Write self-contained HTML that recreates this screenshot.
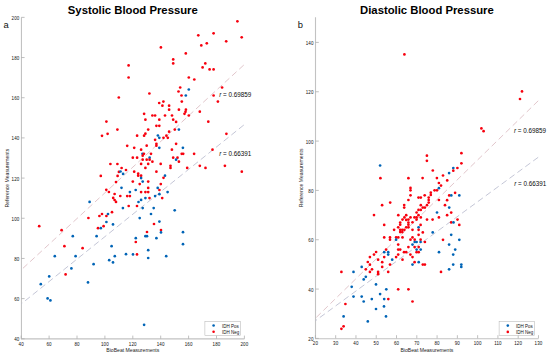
<!DOCTYPE html>
<html><head><meta charset="utf-8"><style>
html,body{margin:0;padding:0;background:#fff;}
svg{display:block;}
text{font-family:"Liberation Sans",sans-serif;fill:#1a1a1a;}
.tk{font-size:4.5px;fill:#111;letter-spacing:0.12px;}
.lb{font-size:5.1px;fill:#222;}
.ti{font-size:11.3px;font-weight:bold;fill:#000;}
.lt{font-size:9.4px;fill:#111;}
.rl{font-size:6.3px;fill:#0a0a0a;}
.lg{font-size:4.5px;fill:#111;}
</style></head><body>
<svg width="550" height="357" viewBox="0 0 550 357">
<rect width="550" height="357" fill="#fff"/>
<path d="M21.45 17.4V338.9H244.40" fill="none" stroke="#c2c2c2" stroke-width="1.1"/>
<path d="M21.20 338.8v-3.2" stroke="#b0b0b0" stroke-width="0.8"/>
<text x="21.20" y="345.8" class="tk" text-anchor="middle">40</text>
<path d="M49.10 338.8v-3.2" stroke="#b0b0b0" stroke-width="0.8"/>
<text x="49.10" y="345.8" class="tk" text-anchor="middle">60</text>
<path d="M77.00 338.8v-3.2" stroke="#b0b0b0" stroke-width="0.8"/>
<text x="77.00" y="345.8" class="tk" text-anchor="middle">80</text>
<path d="M104.90 338.8v-3.2" stroke="#b0b0b0" stroke-width="0.8"/>
<text x="104.90" y="345.8" class="tk" text-anchor="middle">100</text>
<path d="M132.80 338.8v-3.2" stroke="#b0b0b0" stroke-width="0.8"/>
<text x="132.80" y="345.8" class="tk" text-anchor="middle">120</text>
<path d="M160.70 338.8v-3.2" stroke="#b0b0b0" stroke-width="0.8"/>
<text x="160.70" y="345.8" class="tk" text-anchor="middle">140</text>
<path d="M188.60 338.8v-3.2" stroke="#b0b0b0" stroke-width="0.8"/>
<text x="188.60" y="345.8" class="tk" text-anchor="middle">160</text>
<path d="M216.50 338.8v-3.2" stroke="#b0b0b0" stroke-width="0.8"/>
<text x="216.50" y="345.8" class="tk" text-anchor="middle">180</text>
<path d="M244.40 338.8v-3.2" stroke="#b0b0b0" stroke-width="0.8"/>
<text x="244.40" y="345.8" class="tk" text-anchor="middle">200</text>
<path d="M21.2 338.80h3.4" stroke="#b0b0b0" stroke-width="0.8"/>
<text x="19.4" y="341.35" class="tk" text-anchor="end">40</text>
<path d="M21.2 298.62h3.4" stroke="#b0b0b0" stroke-width="0.8"/>
<text x="19.4" y="301.17" class="tk" text-anchor="end">60</text>
<path d="M21.2 258.44h3.4" stroke="#b0b0b0" stroke-width="0.8"/>
<text x="19.4" y="260.99" class="tk" text-anchor="end">80</text>
<path d="M21.2 218.26h3.4" stroke="#b0b0b0" stroke-width="0.8"/>
<text x="19.4" y="220.81" class="tk" text-anchor="end">100</text>
<path d="M21.2 178.08h3.4" stroke="#b0b0b0" stroke-width="0.8"/>
<text x="19.4" y="180.63" class="tk" text-anchor="end">120</text>
<path d="M21.2 137.90h3.4" stroke="#b0b0b0" stroke-width="0.8"/>
<text x="19.4" y="140.45" class="tk" text-anchor="end">140</text>
<path d="M21.2 97.72h3.4" stroke="#b0b0b0" stroke-width="0.8"/>
<text x="19.4" y="100.27" class="tk" text-anchor="end">160</text>
<path d="M21.2 57.54h3.4" stroke="#b0b0b0" stroke-width="0.8"/>
<text x="19.4" y="60.09" class="tk" text-anchor="end">180</text>
<path d="M21.2 17.36h3.4" stroke="#b0b0b0" stroke-width="0.8"/>
<text x="19.4" y="19.91" class="tk" text-anchor="end">200</text>
<path d="M243.8 65L21.4 269.7" stroke="#dcbcc2" stroke-width="0.85" stroke-dasharray="6.2 3.6"/>
<path d="M243.8 125L21.4 303.8" stroke="#b9bccf" stroke-width="0.85" stroke-dasharray="6.2 3.6"/>
<circle cx="237.4" cy="21.3" r="1.35" fill="#f7000e"/>
<circle cx="198.3" cy="35.3" r="1.35" fill="#f7000e"/>
<circle cx="213.6" cy="33.3" r="1.35" fill="#f7000e"/>
<circle cx="241.7" cy="37.3" r="1.35" fill="#f7000e"/>
<circle cx="226.2" cy="41.3" r="1.35" fill="#f7000e"/>
<circle cx="201.3" cy="45.4" r="1.35" fill="#f7000e"/>
<circle cx="206.8" cy="43.3" r="1.35" fill="#f7000e"/>
<circle cx="160.9" cy="47.4" r="1.35" fill="#f7000e"/>
<circle cx="185.8" cy="53.4" r="1.35" fill="#f7000e"/>
<circle cx="173.2" cy="59.4" r="1.35" fill="#f7000e"/>
<circle cx="173.2" cy="63.4" r="1.35" fill="#f7000e"/>
<circle cx="205.3" cy="63.4" r="1.35" fill="#f7000e"/>
<circle cx="202.6" cy="67.4" r="1.35" fill="#f7000e"/>
<circle cx="209.6" cy="69.4" r="1.35" fill="#f7000e"/>
<circle cx="213.6" cy="69.4" r="1.35" fill="#f7000e"/>
<circle cx="128.6" cy="65.4" r="1.35" fill="#f7000e"/>
<circle cx="128.6" cy="77.5" r="1.35" fill="#f7000e"/>
<circle cx="188.8" cy="77.5" r="1.35" fill="#f7000e"/>
<circle cx="194.3" cy="79.5" r="1.35" fill="#f7000e"/>
<circle cx="180.2" cy="87.5" r="1.35" fill="#f7000e"/>
<circle cx="188.8" cy="89.5" r="1.35" fill="#0064b6"/>
<circle cx="178.5" cy="91.5" r="1.35" fill="#f7000e"/>
<circle cx="222.1" cy="87.5" r="1.35" fill="#f7000e"/>
<circle cx="149.4" cy="93.5" r="1.35" fill="#f7000e"/>
<circle cx="118.8" cy="97.5" r="1.35" fill="#f7000e"/>
<circle cx="181.5" cy="95.5" r="1.35" fill="#f7000e"/>
<circle cx="185.8" cy="95.5" r="1.35" fill="#0064b6"/>
<circle cx="213.6" cy="95.5" r="1.35" fill="#f7000e"/>
<circle cx="163.4" cy="101.6" r="1.35" fill="#f7000e"/>
<circle cx="159.2" cy="103.0" r="1.35" fill="#f7000e"/>
<circle cx="181.8" cy="101.6" r="1.35" fill="#f7000e"/>
<circle cx="217.9" cy="101.6" r="1.35" fill="#f7000e"/>
<circle cx="106.4" cy="121.6" r="1.35" fill="#f7000e"/>
<circle cx="117.4" cy="129.6" r="1.35" fill="#f7000e"/>
<circle cx="102.0" cy="135.8" r="1.35" fill="#f7000e"/>
<circle cx="107.6" cy="133.8" r="1.35" fill="#f7000e"/>
<circle cx="127.2" cy="145.8" r="1.35" fill="#f7000e"/>
<circle cx="110.4" cy="164.0" r="1.35" fill="#f7000e"/>
<circle cx="117.4" cy="164.0" r="1.35" fill="#f7000e"/>
<circle cx="121.6" cy="168.0" r="1.35" fill="#f7000e"/>
<circle cx="126.0" cy="170.0" r="1.35" fill="#f7000e"/>
<circle cx="162.4" cy="105.7" r="1.35" fill="#f7000e"/>
<circle cx="169.1" cy="105.7" r="1.35" fill="#f7000e"/>
<circle cx="169.1" cy="109.7" r="1.35" fill="#f7000e"/>
<circle cx="178.9" cy="109.7" r="1.35" fill="#f7000e"/>
<circle cx="185.9" cy="109.7" r="1.35" fill="#f7000e"/>
<circle cx="185.5" cy="111.8" r="1.35" fill="#f7000e"/>
<circle cx="184.5" cy="113.8" r="1.35" fill="#f7000e"/>
<circle cx="188.8" cy="115.5" r="1.35" fill="#f7000e"/>
<circle cx="144.1" cy="113.8" r="1.35" fill="#f7000e"/>
<circle cx="152.4" cy="115.5" r="1.35" fill="#f7000e"/>
<circle cx="155.1" cy="115.5" r="1.35" fill="#f7000e"/>
<circle cx="165.0" cy="115.5" r="1.35" fill="#f7000e"/>
<circle cx="172.0" cy="115.5" r="1.35" fill="#f7000e"/>
<circle cx="145.4" cy="119.7" r="1.35" fill="#f7000e"/>
<circle cx="159.3" cy="119.7" r="1.35" fill="#f7000e"/>
<circle cx="173.2" cy="119.7" r="1.35" fill="#f7000e"/>
<circle cx="176.1" cy="121.9" r="1.35" fill="#f7000e"/>
<circle cx="156.4" cy="125.8" r="1.35" fill="#f7000e"/>
<circle cx="159.3" cy="125.8" r="1.35" fill="#f7000e"/>
<circle cx="148.2" cy="129.6" r="1.35" fill="#f7000e"/>
<circle cx="174.8" cy="129.6" r="1.35" fill="#f7000e"/>
<circle cx="178.9" cy="129.6" r="1.35" fill="#0064b6"/>
<circle cx="169.1" cy="131.7" r="1.35" fill="#f7000e"/>
<circle cx="145.4" cy="133.7" r="1.35" fill="#f7000e"/>
<circle cx="144.1" cy="135.7" r="1.35" fill="#f7000e"/>
<circle cx="137.1" cy="135.7" r="1.35" fill="#f7000e"/>
<circle cx="157.9" cy="135.5" r="1.35" fill="#0064b6"/>
<circle cx="159.3" cy="137.8" r="1.35" fill="#0064b6"/>
<circle cx="166.4" cy="135.7" r="1.35" fill="#f7000e"/>
<circle cx="167.8" cy="137.8" r="1.35" fill="#f7000e"/>
<circle cx="163.5" cy="137.8" r="1.35" fill="#f7000e"/>
<circle cx="155.1" cy="139.8" r="1.35" fill="#f7000e"/>
<circle cx="199.8" cy="111.7" r="1.35" fill="#f7000e"/>
<circle cx="208.3" cy="121.7" r="1.35" fill="#f7000e"/>
<circle cx="226.4" cy="133.8" r="1.35" fill="#f7000e"/>
<circle cx="146.7" cy="145.7" r="1.35" fill="#f7000e"/>
<circle cx="156.4" cy="143.8" r="1.35" fill="#f7000e"/>
<circle cx="156.4" cy="145.7" r="1.35" fill="#f7000e"/>
<circle cx="159.3" cy="147.8" r="1.35" fill="#0064b6"/>
<circle cx="176.1" cy="143.8" r="1.35" fill="#f7000e"/>
<circle cx="182.9" cy="147.8" r="1.35" fill="#0064b6"/>
<circle cx="134.2" cy="147.8" r="1.35" fill="#f7000e"/>
<circle cx="141.1" cy="149.7" r="1.35" fill="#f7000e"/>
<circle cx="171.9" cy="149.7" r="1.35" fill="#f7000e"/>
<circle cx="142.5" cy="153.8" r="1.35" fill="#0064b6"/>
<circle cx="143.9" cy="153.8" r="1.35" fill="#f7000e"/>
<circle cx="142.7" cy="155.7" r="1.35" fill="#f7000e"/>
<circle cx="151.0" cy="153.8" r="1.35" fill="#f7000e"/>
<circle cx="181.7" cy="153.8" r="1.35" fill="#f7000e"/>
<circle cx="183.2" cy="153.8" r="1.35" fill="#f7000e"/>
<circle cx="132.8" cy="157.7" r="1.35" fill="#f7000e"/>
<circle cx="137.1" cy="157.7" r="1.35" fill="#f7000e"/>
<circle cx="149.6" cy="157.7" r="1.35" fill="#0064b6"/>
<circle cx="173.2" cy="157.7" r="1.35" fill="#f7000e"/>
<circle cx="177.5" cy="157.7" r="1.35" fill="#f7000e"/>
<circle cx="176.1" cy="159.7" r="1.35" fill="#0064b6"/>
<circle cx="142.7" cy="159.7" r="1.35" fill="#f7000e"/>
<circle cx="146.7" cy="159.7" r="1.35" fill="#f7000e"/>
<circle cx="149.6" cy="159.7" r="1.35" fill="#f7000e"/>
<circle cx="152.4" cy="161.7" r="1.35" fill="#f7000e"/>
<circle cx="178.9" cy="161.7" r="1.35" fill="#f7000e"/>
<circle cx="141.1" cy="163.9" r="1.35" fill="#f7000e"/>
<circle cx="148.2" cy="163.9" r="1.35" fill="#f7000e"/>
<circle cx="160.7" cy="163.9" r="1.35" fill="#f7000e"/>
<circle cx="170.5" cy="165.8" r="1.35" fill="#f7000e"/>
<circle cx="170.5" cy="167.9" r="1.35" fill="#f7000e"/>
<circle cx="145.4" cy="167.9" r="1.35" fill="#f7000e"/>
<circle cx="187.2" cy="167.9" r="1.35" fill="#f7000e"/>
<circle cx="134.2" cy="171.7" r="1.35" fill="#f7000e"/>
<circle cx="156.4" cy="171.7" r="1.35" fill="#f7000e"/>
<circle cx="138.2" cy="173.7" r="1.35" fill="#f7000e"/>
<circle cx="138.2" cy="175.7" r="1.35" fill="#f7000e"/>
<circle cx="141.1" cy="175.7" r="1.35" fill="#f7000e"/>
<circle cx="141.1" cy="178.1" r="1.35" fill="#0064b6"/>
<circle cx="165.0" cy="175.7" r="1.35" fill="#0064b6"/>
<circle cx="163.5" cy="177.8" r="1.35" fill="#f7000e"/>
<circle cx="132.8" cy="181.6" r="1.35" fill="#f7000e"/>
<circle cx="142.7" cy="181.6" r="1.35" fill="#0064b6"/>
<circle cx="148.2" cy="181.6" r="1.35" fill="#f7000e"/>
<circle cx="194.1" cy="153.8" r="1.35" fill="#f7000e"/>
<circle cx="212.5" cy="149.7" r="1.35" fill="#f7000e"/>
<circle cx="199.8" cy="165.8" r="1.35" fill="#f7000e"/>
<circle cx="205.5" cy="167.9" r="1.35" fill="#f7000e"/>
<circle cx="224.9" cy="165.8" r="1.35" fill="#f7000e"/>
<circle cx="241.8" cy="171.7" r="1.35" fill="#f7000e"/>
<circle cx="118.9" cy="171.9" r="1.35" fill="#f7000e"/>
<circle cx="120.5" cy="171.5" r="1.35" fill="#0064b6"/>
<circle cx="123.1" cy="173.9" r="1.35" fill="#0064b6"/>
<circle cx="100.8" cy="175.9" r="1.35" fill="#f7000e"/>
<circle cx="117.6" cy="175.9" r="1.35" fill="#f7000e"/>
<circle cx="116.0" cy="182.1" r="1.35" fill="#f7000e"/>
<circle cx="121.5" cy="187.8" r="1.35" fill="#0064b6"/>
<circle cx="106.3" cy="189.8" r="1.35" fill="#f7000e"/>
<circle cx="108.9" cy="192.0" r="1.35" fill="#f7000e"/>
<circle cx="114.6" cy="194.0" r="1.35" fill="#f7000e"/>
<circle cx="120.3" cy="196.0" r="1.35" fill="#f7000e"/>
<circle cx="113.2" cy="197.9" r="1.35" fill="#f7000e"/>
<circle cx="114.6" cy="200.0" r="1.35" fill="#f7000e"/>
<circle cx="116.0" cy="201.9" r="1.35" fill="#f7000e"/>
<circle cx="89.6" cy="201.9" r="1.35" fill="#0064b6"/>
<circle cx="139.7" cy="184.1" r="1.35" fill="#f7000e"/>
<circle cx="160.8" cy="184.1" r="1.35" fill="#f7000e"/>
<circle cx="148.2" cy="187.9" r="1.35" fill="#f7000e"/>
<circle cx="157.7" cy="187.9" r="1.35" fill="#0064b6"/>
<circle cx="159.4" cy="190.0" r="1.35" fill="#f7000e"/>
<circle cx="135.7" cy="190.0" r="1.35" fill="#0064b6"/>
<circle cx="129.9" cy="192.1" r="1.35" fill="#0064b6"/>
<circle cx="141.1" cy="192.1" r="1.35" fill="#f7000e"/>
<circle cx="145.4" cy="192.1" r="1.35" fill="#f7000e"/>
<circle cx="148.2" cy="192.1" r="1.35" fill="#f7000e"/>
<circle cx="167.6" cy="192.1" r="1.35" fill="#0064b6"/>
<circle cx="159.4" cy="194.2" r="1.35" fill="#0064b6"/>
<circle cx="127.2" cy="196.1" r="1.35" fill="#f7000e"/>
<circle cx="129.9" cy="196.1" r="1.35" fill="#f7000e"/>
<circle cx="155.1" cy="196.1" r="1.35" fill="#0064b6"/>
<circle cx="145.4" cy="198.1" r="1.35" fill="#0064b6"/>
<circle cx="149.5" cy="198.1" r="1.35" fill="#f7000e"/>
<circle cx="162.2" cy="198.1" r="1.35" fill="#f7000e"/>
<circle cx="141.1" cy="199.9" r="1.35" fill="#0064b6"/>
<circle cx="138.5" cy="202.0" r="1.35" fill="#0064b6"/>
<circle cx="128.7" cy="206.0" r="1.35" fill="#f7000e"/>
<circle cx="137.0" cy="206.0" r="1.35" fill="#f7000e"/>
<circle cx="122.9" cy="208.1" r="1.35" fill="#0064b6"/>
<circle cx="142.7" cy="208.1" r="1.35" fill="#0064b6"/>
<circle cx="153.7" cy="208.1" r="1.35" fill="#0064b6"/>
<circle cx="174.7" cy="210.3" r="1.35" fill="#0064b6"/>
<circle cx="151.0" cy="214.0" r="1.35" fill="#0064b6"/>
<circle cx="139.7" cy="218.1" r="1.35" fill="#0064b6"/>
<circle cx="159.4" cy="221.6" r="1.35" fill="#0064b6"/>
<circle cx="88.4" cy="218.0" r="1.35" fill="#f7000e"/>
<circle cx="99.4" cy="216.0" r="1.35" fill="#f7000e"/>
<circle cx="102.0" cy="214.0" r="1.35" fill="#f7000e"/>
<circle cx="106.4" cy="216.0" r="1.35" fill="#f7000e"/>
<circle cx="108.0" cy="214.0" r="1.35" fill="#0064b6"/>
<circle cx="112.0" cy="212.2" r="1.35" fill="#f7000e"/>
<circle cx="106.4" cy="222.0" r="1.35" fill="#0064b6"/>
<circle cx="113.0" cy="224.4" r="1.35" fill="#0064b6"/>
<circle cx="39.2" cy="226.2" r="1.35" fill="#f7000e"/>
<circle cx="61.6" cy="230.2" r="1.35" fill="#f7000e"/>
<circle cx="98.0" cy="228.2" r="1.35" fill="#f7000e"/>
<circle cx="100.8" cy="228.2" r="1.35" fill="#0064b6"/>
<circle cx="103.6" cy="226.2" r="1.35" fill="#f7000e"/>
<circle cx="72.8" cy="236.2" r="1.35" fill="#0064b6"/>
<circle cx="96.6" cy="236.2" r="1.35" fill="#0064b6"/>
<circle cx="64.4" cy="246.2" r="1.35" fill="#f7000e"/>
<circle cx="82.6" cy="248.2" r="1.35" fill="#f7000e"/>
<circle cx="111.6" cy="246.2" r="1.35" fill="#0064b6"/>
<circle cx="126.0" cy="254.2" r="1.35" fill="#0064b6"/>
<circle cx="54.8" cy="256.2" r="1.35" fill="#0064b6"/>
<circle cx="75.6" cy="256.2" r="1.35" fill="#0064b6"/>
<circle cx="114.8" cy="256.2" r="1.35" fill="#0064b6"/>
<circle cx="109.2" cy="260.2" r="1.35" fill="#0064b6"/>
<circle cx="113.0" cy="262.4" r="1.35" fill="#0064b6"/>
<circle cx="93.6" cy="264.2" r="1.35" fill="#0064b6"/>
<circle cx="71.4" cy="268.4" r="1.35" fill="#0064b6"/>
<circle cx="154.0" cy="224.0" r="1.35" fill="#f7000e"/>
<circle cx="161.0" cy="230.0" r="1.35" fill="#f7000e"/>
<circle cx="161.0" cy="232.4" r="1.35" fill="#0064b6"/>
<circle cx="147.0" cy="232.0" r="1.35" fill="#f7000e"/>
<circle cx="145.4" cy="236.2" r="1.35" fill="#0064b6"/>
<circle cx="147.0" cy="236.2" r="1.35" fill="#0064b6"/>
<circle cx="135.8" cy="238.2" r="1.35" fill="#0064b6"/>
<circle cx="135.8" cy="242.0" r="1.35" fill="#f7000e"/>
<circle cx="156.4" cy="238.2" r="1.35" fill="#0064b6"/>
<circle cx="183.0" cy="232.2" r="1.35" fill="#0064b6"/>
<circle cx="183.0" cy="244.2" r="1.35" fill="#0064b6"/>
<circle cx="148.2" cy="250.2" r="1.35" fill="#0064b6"/>
<circle cx="133.0" cy="254.4" r="1.35" fill="#0064b6"/>
<circle cx="137.0" cy="254.4" r="1.35" fill="#f7000e"/>
<circle cx="148.2" cy="258.0" r="1.35" fill="#0064b6"/>
<circle cx="166.2" cy="256.2" r="1.35" fill="#0064b6"/>
<circle cx="65.6" cy="274.4" r="1.35" fill="#f7000e"/>
<circle cx="49.2" cy="276.4" r="1.35" fill="#0064b6"/>
<circle cx="40.8" cy="284.2" r="1.35" fill="#0064b6"/>
<circle cx="88.0" cy="282.4" r="1.35" fill="#0064b6"/>
<circle cx="47.6" cy="298.4" r="1.35" fill="#0064b6"/>
<circle cx="50.4" cy="300.4" r="1.35" fill="#0064b6"/>
<circle cx="144.1" cy="324.8" r="1.35" fill="#0064b6"/>
<text x="219.2" y="97.1" class="rl"><tspan font-style="italic">r</tspan> = 0.69859</text>
<text x="219.2" y="155.8" class="rl"><tspan font-style="italic">r</tspan> = 0.66391</text>
<text x="132.80" y="13.6" class="ti" text-anchor="middle">Systolic Blood Pressure</text>
<text x="3.599999999999998" y="27.8" class="lt">a</text>
<text x="132.80" y="351.8" class="lb" text-anchor="middle">BioBeat Measurements</text>
<text transform="translate(8.7 178.10) rotate(-90)" class="lb" text-anchor="middle">Reference Measurements</text>
<rect x="204.9" y="321.5" width="35.6" height="14" fill="#fff" stroke="#b0b0b0" stroke-width="0.5"/>
<circle cx="213.6" cy="325.5" r="1.3" fill="#0064b6"/>
<circle cx="213.6" cy="331.8" r="1.3" fill="#f7000e"/>
<text x="221.9" y="327.5" class="lg">IDH Pos</text>
<text x="221.9" y="333.7" class="lg">IDH Neg</text>
<path d="M315.5 17.3V338.7H538.48" fill="none" stroke="#c2c2c2" stroke-width="1.1"/>
<path d="M315.40 338.4v-3.2" stroke="#b0b0b0" stroke-width="0.8"/>
<text x="315.40" y="345.4" class="tk" text-anchor="middle">20</text>
<path d="M335.68 338.4v-3.2" stroke="#b0b0b0" stroke-width="0.8"/>
<text x="335.68" y="345.4" class="tk" text-anchor="middle">30</text>
<path d="M355.96 338.4v-3.2" stroke="#b0b0b0" stroke-width="0.8"/>
<text x="355.96" y="345.4" class="tk" text-anchor="middle">40</text>
<path d="M376.24 338.4v-3.2" stroke="#b0b0b0" stroke-width="0.8"/>
<text x="376.24" y="345.4" class="tk" text-anchor="middle">50</text>
<path d="M396.52 338.4v-3.2" stroke="#b0b0b0" stroke-width="0.8"/>
<text x="396.52" y="345.4" class="tk" text-anchor="middle">60</text>
<path d="M416.80 338.4v-3.2" stroke="#b0b0b0" stroke-width="0.8"/>
<text x="416.80" y="345.4" class="tk" text-anchor="middle">70</text>
<path d="M437.08 338.4v-3.2" stroke="#b0b0b0" stroke-width="0.8"/>
<text x="437.08" y="345.4" class="tk" text-anchor="middle">80</text>
<path d="M457.36 338.4v-3.2" stroke="#b0b0b0" stroke-width="0.8"/>
<text x="457.36" y="345.4" class="tk" text-anchor="middle">90</text>
<path d="M477.64 338.4v-3.2" stroke="#b0b0b0" stroke-width="0.8"/>
<text x="477.64" y="345.4" class="tk" text-anchor="middle">100</text>
<path d="M497.92 338.4v-3.2" stroke="#b0b0b0" stroke-width="0.8"/>
<text x="497.92" y="345.4" class="tk" text-anchor="middle">110</text>
<path d="M518.20 338.4v-3.2" stroke="#b0b0b0" stroke-width="0.8"/>
<text x="518.20" y="345.4" class="tk" text-anchor="middle">120</text>
<path d="M538.48 338.4v-3.2" stroke="#b0b0b0" stroke-width="0.8"/>
<text x="538.48" y="345.4" class="tk" text-anchor="middle">130</text>
<path d="M315.4 338.40h3.4" stroke="#b0b0b0" stroke-width="0.8"/>
<text x="313.59999999999997" y="340.95" class="tk" text-anchor="end">20</text>
<path d="M315.4 289.07h3.4" stroke="#b0b0b0" stroke-width="0.8"/>
<text x="313.59999999999997" y="291.62" class="tk" text-anchor="end">40</text>
<path d="M315.4 239.74h3.4" stroke="#b0b0b0" stroke-width="0.8"/>
<text x="313.59999999999997" y="242.29" class="tk" text-anchor="end">60</text>
<path d="M315.4 190.41h3.4" stroke="#b0b0b0" stroke-width="0.8"/>
<text x="313.59999999999997" y="192.96" class="tk" text-anchor="end">80</text>
<path d="M315.4 141.08h3.4" stroke="#b0b0b0" stroke-width="0.8"/>
<text x="313.59999999999997" y="143.63" class="tk" text-anchor="end">100</text>
<path d="M315.4 91.75h3.4" stroke="#b0b0b0" stroke-width="0.8"/>
<text x="313.59999999999997" y="94.30" class="tk" text-anchor="end">120</text>
<path d="M315.4 42.42h3.4" stroke="#b0b0b0" stroke-width="0.8"/>
<text x="313.59999999999997" y="44.97" class="tk" text-anchor="end">140</text>
<path d="M538.2 100.8L315.5 318.2" stroke="#dcbcc2" stroke-width="0.85" stroke-dasharray="6.2 3.6"/>
<path d="M538.2 157.3L315.5 320.7" stroke="#b9bccf" stroke-width="0.85" stroke-dasharray="6.2 3.6"/>
<circle cx="404.4" cy="54.4" r="1.35" fill="#f7000e"/>
<circle cx="522.0" cy="91.4" r="1.35" fill="#f7000e"/>
<circle cx="520.0" cy="99.0" r="1.35" fill="#f7000e"/>
<circle cx="481.4" cy="128.4" r="1.35" fill="#f7000e"/>
<circle cx="483.6" cy="131.2" r="1.35" fill="#f7000e"/>
<circle cx="426.9" cy="155.7" r="1.35" fill="#f7000e"/>
<circle cx="426.9" cy="160.8" r="1.35" fill="#f7000e"/>
<circle cx="461.4" cy="153.2" r="1.35" fill="#f7000e"/>
<circle cx="461.4" cy="163.3" r="1.35" fill="#f7000e"/>
<circle cx="432.8" cy="170.5" r="1.35" fill="#f7000e"/>
<circle cx="453.3" cy="168.0" r="1.35" fill="#0064b6"/>
<circle cx="457.4" cy="168.0" r="1.35" fill="#f7000e"/>
<circle cx="453.3" cy="170.7" r="1.35" fill="#f7000e"/>
<circle cx="449.1" cy="173.1" r="1.35" fill="#0064b6"/>
<circle cx="443.0" cy="175.5" r="1.35" fill="#f7000e"/>
<circle cx="422.6" cy="178.1" r="1.35" fill="#f7000e"/>
<circle cx="436.9" cy="178.1" r="1.35" fill="#f7000e"/>
<circle cx="447.2" cy="180.4" r="1.35" fill="#f7000e"/>
<circle cx="441.0" cy="185.6" r="1.35" fill="#f7000e"/>
<circle cx="455.1" cy="192.8" r="1.35" fill="#f7000e"/>
<circle cx="449.2" cy="195.4" r="1.35" fill="#f7000e"/>
<circle cx="451.3" cy="195.4" r="1.35" fill="#0064b6"/>
<circle cx="459.3" cy="195.4" r="1.35" fill="#0064b6"/>
<circle cx="447.1" cy="200.2" r="1.35" fill="#f7000e"/>
<circle cx="445.0" cy="205.2" r="1.35" fill="#f7000e"/>
<circle cx="449.2" cy="207.6" r="1.35" fill="#0064b6"/>
<circle cx="451.2" cy="212.6" r="1.35" fill="#f7000e"/>
<circle cx="447.1" cy="215.2" r="1.35" fill="#f7000e"/>
<circle cx="457.5" cy="219.6" r="1.35" fill="#f7000e"/>
<circle cx="438.9" cy="183.0" r="1.35" fill="#f7000e"/>
<circle cx="438.9" cy="188.2" r="1.35" fill="#0064b6"/>
<circle cx="434.6" cy="190.3" r="1.35" fill="#f7000e"/>
<circle cx="437.0" cy="190.3" r="1.35" fill="#f7000e"/>
<circle cx="410.5" cy="187.9" r="1.35" fill="#f7000e"/>
<circle cx="410.5" cy="190.3" r="1.35" fill="#f7000e"/>
<circle cx="410.5" cy="195.3" r="1.35" fill="#f7000e"/>
<circle cx="430.8" cy="192.7" r="1.35" fill="#f7000e"/>
<circle cx="430.8" cy="195.0" r="1.35" fill="#f7000e"/>
<circle cx="424.7" cy="195.3" r="1.35" fill="#f7000e"/>
<circle cx="418.5" cy="197.6" r="1.35" fill="#f7000e"/>
<circle cx="420.8" cy="197.6" r="1.35" fill="#f7000e"/>
<circle cx="428.7" cy="197.6" r="1.35" fill="#f7000e"/>
<circle cx="428.7" cy="200.0" r="1.35" fill="#f7000e"/>
<circle cx="428.7" cy="202.6" r="1.35" fill="#f7000e"/>
<circle cx="408.4" cy="200.0" r="1.35" fill="#f7000e"/>
<circle cx="438.9" cy="200.0" r="1.35" fill="#f7000e"/>
<circle cx="390.2" cy="202.6" r="1.35" fill="#f7000e"/>
<circle cx="382.1" cy="205.2" r="1.35" fill="#f7000e"/>
<circle cx="404.2" cy="205.0" r="1.35" fill="#f7000e"/>
<circle cx="404.2" cy="207.6" r="1.35" fill="#f7000e"/>
<circle cx="420.8" cy="205.2" r="1.35" fill="#f7000e"/>
<circle cx="427.0" cy="205.2" r="1.35" fill="#f7000e"/>
<circle cx="422.8" cy="207.6" r="1.35" fill="#f7000e"/>
<circle cx="424.9" cy="207.6" r="1.35" fill="#f7000e"/>
<circle cx="418.5" cy="209.9" r="1.35" fill="#f7000e"/>
<circle cx="420.8" cy="209.9" r="1.35" fill="#f7000e"/>
<circle cx="416.6" cy="212.5" r="1.35" fill="#f7000e"/>
<circle cx="437.0" cy="212.5" r="1.35" fill="#0064b6"/>
<circle cx="398.3" cy="215.2" r="1.35" fill="#f7000e"/>
<circle cx="406.2" cy="215.2" r="1.35" fill="#f7000e"/>
<circle cx="418.5" cy="215.2" r="1.35" fill="#f7000e"/>
<circle cx="404.4" cy="217.4" r="1.35" fill="#f7000e"/>
<circle cx="410.5" cy="217.4" r="1.35" fill="#f7000e"/>
<circle cx="414.5" cy="217.4" r="1.35" fill="#f7000e"/>
<circle cx="416.6" cy="217.4" r="1.35" fill="#f7000e"/>
<circle cx="420.8" cy="217.4" r="1.35" fill="#f7000e"/>
<circle cx="438.9" cy="217.4" r="1.35" fill="#f7000e"/>
<circle cx="402.5" cy="219.6" r="1.35" fill="#f7000e"/>
<circle cx="408.4" cy="219.6" r="1.35" fill="#f7000e"/>
<circle cx="416.6" cy="219.6" r="1.35" fill="#f7000e"/>
<circle cx="427.0" cy="219.6" r="1.35" fill="#f7000e"/>
<circle cx="432.6" cy="219.6" r="1.35" fill="#f7000e"/>
<circle cx="380.1" cy="165.5" r="1.35" fill="#0064b6"/>
<circle cx="380.4" cy="178.2" r="1.35" fill="#f7000e"/>
<circle cx="408.4" cy="178.2" r="1.35" fill="#f7000e"/>
<circle cx="374.0" cy="215.1" r="1.35" fill="#f7000e"/>
<circle cx="406.2" cy="219.9" r="1.35" fill="#f7000e"/>
<circle cx="400.2" cy="222.5" r="1.35" fill="#f7000e"/>
<circle cx="408.4" cy="222.5" r="1.35" fill="#f7000e"/>
<circle cx="412.5" cy="222.3" r="1.35" fill="#f7000e"/>
<circle cx="400.2" cy="224.7" r="1.35" fill="#f7000e"/>
<circle cx="408.4" cy="224.7" r="1.35" fill="#f7000e"/>
<circle cx="384.2" cy="224.9" r="1.35" fill="#f7000e"/>
<circle cx="420.6" cy="224.9" r="1.35" fill="#f7000e"/>
<circle cx="398.2" cy="227.3" r="1.35" fill="#f7000e"/>
<circle cx="406.2" cy="227.3" r="1.35" fill="#f7000e"/>
<circle cx="408.4" cy="227.3" r="1.35" fill="#f7000e"/>
<circle cx="418.6" cy="227.3" r="1.35" fill="#0064b6"/>
<circle cx="394.1" cy="229.8" r="1.35" fill="#f7000e"/>
<circle cx="400.2" cy="229.8" r="1.35" fill="#f7000e"/>
<circle cx="402.3" cy="229.8" r="1.35" fill="#f7000e"/>
<circle cx="404.4" cy="229.8" r="1.35" fill="#f7000e"/>
<circle cx="412.5" cy="229.8" r="1.35" fill="#f7000e"/>
<circle cx="418.6" cy="229.8" r="1.35" fill="#f7000e"/>
<circle cx="400.2" cy="232.1" r="1.35" fill="#f7000e"/>
<circle cx="402.3" cy="232.1" r="1.35" fill="#f7000e"/>
<circle cx="422.8" cy="232.4" r="1.35" fill="#f7000e"/>
<circle cx="418.6" cy="234.8" r="1.35" fill="#f7000e"/>
<circle cx="384.2" cy="237.4" r="1.35" fill="#f7000e"/>
<circle cx="390.0" cy="237.4" r="1.35" fill="#f7000e"/>
<circle cx="396.1" cy="237.4" r="1.35" fill="#f7000e"/>
<circle cx="398.3" cy="237.4" r="1.35" fill="#f7000e"/>
<circle cx="402.5" cy="237.4" r="1.35" fill="#f7000e"/>
<circle cx="412.5" cy="237.4" r="1.35" fill="#f7000e"/>
<circle cx="390.0" cy="239.7" r="1.35" fill="#f7000e"/>
<circle cx="396.1" cy="239.7" r="1.35" fill="#0064b6"/>
<circle cx="410.5" cy="239.7" r="1.35" fill="#f7000e"/>
<circle cx="414.7" cy="239.7" r="1.35" fill="#f7000e"/>
<circle cx="420.6" cy="239.7" r="1.35" fill="#f7000e"/>
<circle cx="414.7" cy="242.0" r="1.35" fill="#0064b6"/>
<circle cx="416.6" cy="242.0" r="1.35" fill="#0064b6"/>
<circle cx="420.6" cy="242.0" r="1.35" fill="#0064b6"/>
<circle cx="424.9" cy="242.0" r="1.35" fill="#f7000e"/>
<circle cx="398.2" cy="244.6" r="1.35" fill="#f7000e"/>
<circle cx="412.5" cy="244.6" r="1.35" fill="#0064b6"/>
<circle cx="451.2" cy="222.4" r="1.35" fill="#f7000e"/>
<circle cx="453.5" cy="222.4" r="1.35" fill="#0064b6"/>
<circle cx="459.3" cy="224.9" r="1.35" fill="#f7000e"/>
<circle cx="432.7" cy="232.4" r="1.35" fill="#0064b6"/>
<circle cx="451.2" cy="234.8" r="1.35" fill="#0064b6"/>
<circle cx="443.0" cy="239.8" r="1.35" fill="#f7000e"/>
<circle cx="459.3" cy="239.8" r="1.35" fill="#0064b6"/>
<circle cx="449.1" cy="244.6" r="1.35" fill="#0064b6"/>
<circle cx="376.1" cy="252.0" r="1.35" fill="#f7000e"/>
<circle cx="374.0" cy="254.6" r="1.35" fill="#f7000e"/>
<circle cx="369.9" cy="257.1" r="1.35" fill="#f7000e"/>
<circle cx="378.1" cy="259.7" r="1.35" fill="#f7000e"/>
<circle cx="367.8" cy="262.0" r="1.35" fill="#f7000e"/>
<circle cx="369.9" cy="264.7" r="1.35" fill="#f7000e"/>
<circle cx="361.7" cy="266.9" r="1.35" fill="#0064b6"/>
<circle cx="365.8" cy="269.3" r="1.35" fill="#f7000e"/>
<circle cx="372.0" cy="269.3" r="1.35" fill="#f7000e"/>
<circle cx="341.4" cy="271.9" r="1.35" fill="#f7000e"/>
<circle cx="353.5" cy="271.9" r="1.35" fill="#0064b6"/>
<circle cx="369.9" cy="271.9" r="1.35" fill="#f7000e"/>
<circle cx="378.1" cy="271.9" r="1.35" fill="#f7000e"/>
<circle cx="386.1" cy="249.6" r="1.35" fill="#f7000e"/>
<circle cx="384.2" cy="252.2" r="1.35" fill="#0064b6"/>
<circle cx="388.2" cy="252.2" r="1.35" fill="#0064b6"/>
<circle cx="388.2" cy="254.6" r="1.35" fill="#0064b6"/>
<circle cx="398.2" cy="249.6" r="1.35" fill="#f7000e"/>
<circle cx="400.2" cy="249.6" r="1.35" fill="#f7000e"/>
<circle cx="408.4" cy="247.1" r="1.35" fill="#f7000e"/>
<circle cx="414.6" cy="247.1" r="1.35" fill="#f7000e"/>
<circle cx="418.7" cy="247.1" r="1.35" fill="#f7000e"/>
<circle cx="416.6" cy="249.6" r="1.35" fill="#0064b6"/>
<circle cx="420.7" cy="249.6" r="1.35" fill="#0064b6"/>
<circle cx="404.0" cy="252.2" r="1.35" fill="#f7000e"/>
<circle cx="406.2" cy="252.2" r="1.35" fill="#f7000e"/>
<circle cx="416.6" cy="252.2" r="1.35" fill="#f7000e"/>
<circle cx="418.7" cy="252.2" r="1.35" fill="#f7000e"/>
<circle cx="398.2" cy="254.6" r="1.35" fill="#f7000e"/>
<circle cx="410.4" cy="254.6" r="1.35" fill="#f7000e"/>
<circle cx="384.2" cy="257.1" r="1.35" fill="#f7000e"/>
<circle cx="396.1" cy="257.1" r="1.35" fill="#f7000e"/>
<circle cx="412.5" cy="257.1" r="1.35" fill="#f7000e"/>
<circle cx="392.2" cy="259.7" r="1.35" fill="#0064b6"/>
<circle cx="402.5" cy="259.7" r="1.35" fill="#f7000e"/>
<circle cx="382.2" cy="262.2" r="1.35" fill="#f7000e"/>
<circle cx="414.6" cy="262.2" r="1.35" fill="#f7000e"/>
<circle cx="418.7" cy="262.2" r="1.35" fill="#0064b6"/>
<circle cx="390.0" cy="264.6" r="1.35" fill="#f7000e"/>
<circle cx="412.5" cy="264.6" r="1.35" fill="#0064b6"/>
<circle cx="422.8" cy="264.6" r="1.35" fill="#f7000e"/>
<circle cx="424.9" cy="264.6" r="1.35" fill="#f7000e"/>
<circle cx="382.2" cy="266.9" r="1.35" fill="#f7000e"/>
<circle cx="388.2" cy="271.9" r="1.35" fill="#f7000e"/>
<circle cx="455.2" cy="249.6" r="1.35" fill="#0064b6"/>
<circle cx="439.0" cy="252.2" r="1.35" fill="#0064b6"/>
<circle cx="453.2" cy="254.6" r="1.35" fill="#0064b6"/>
<circle cx="453.2" cy="264.6" r="1.35" fill="#0064b6"/>
<circle cx="461.3" cy="264.6" r="1.35" fill="#0064b6"/>
<circle cx="461.3" cy="266.9" r="1.35" fill="#0064b6"/>
<circle cx="449.1" cy="269.3" r="1.35" fill="#0064b6"/>
<circle cx="441.0" cy="271.9" r="1.35" fill="#f7000e"/>
<circle cx="378.1" cy="274.2" r="1.35" fill="#f7000e"/>
<circle cx="365.8" cy="276.8" r="1.35" fill="#0064b6"/>
<circle cx="363.7" cy="279.4" r="1.35" fill="#0064b6"/>
<circle cx="376.0" cy="284.4" r="1.35" fill="#0064b6"/>
<circle cx="351.7" cy="286.8" r="1.35" fill="#0064b6"/>
<circle cx="380.1" cy="294.1" r="1.35" fill="#0064b6"/>
<circle cx="353.5" cy="296.6" r="1.35" fill="#0064b6"/>
<circle cx="361.7" cy="296.6" r="1.35" fill="#0064b6"/>
<circle cx="371.8" cy="299.1" r="1.35" fill="#0064b6"/>
<circle cx="363.7" cy="301.5" r="1.35" fill="#0064b6"/>
<circle cx="386.3" cy="289.3" r="1.35" fill="#0064b6"/>
<circle cx="398.2" cy="289.3" r="1.35" fill="#f7000e"/>
<circle cx="408.4" cy="289.3" r="1.35" fill="#f7000e"/>
<circle cx="384.2" cy="299.1" r="1.35" fill="#0064b6"/>
<circle cx="388.3" cy="299.1" r="1.35" fill="#f7000e"/>
<circle cx="412.5" cy="301.5" r="1.35" fill="#f7000e"/>
<circle cx="345.4" cy="304.0" r="1.35" fill="#f7000e"/>
<circle cx="376.0" cy="309.0" r="1.35" fill="#0064b6"/>
<circle cx="384.0" cy="306.4" r="1.35" fill="#0064b6"/>
<circle cx="343.6" cy="316.4" r="1.35" fill="#0064b6"/>
<circle cx="386.0" cy="316.4" r="1.35" fill="#0064b6"/>
<circle cx="367.8" cy="321.4" r="1.35" fill="#0064b6"/>
<circle cx="343.6" cy="326.3" r="1.35" fill="#f7000e"/>
<circle cx="341.4" cy="328.8" r="1.35" fill="#f7000e"/>
<text x="514" y="133" class="rl"><tspan font-style="italic">r</tspan> = 0.69859</text>
<text x="514.2" y="185.8" class="rl"><tspan font-style="italic">r</tspan> = 0.66391</text>
<text x="426.94" y="13.6" class="ti" text-anchor="middle">Diastolic Blood Pressure</text>
<text x="297.79999999999995" y="27.8" class="lt">b</text>
<text x="426.94" y="351.8" class="lb" text-anchor="middle">BioBeat Measurements</text>
<text transform="translate(302.9 177.85) rotate(-90)" class="lb" text-anchor="middle">Reference Measurements</text>
<rect x="499.1" y="321.6" width="35.5" height="13.7" fill="#fff" stroke="#b0b0b0" stroke-width="0.5"/>
<circle cx="507.8" cy="325.6" r="1.3" fill="#0064b6"/>
<circle cx="507.8" cy="331.90000000000003" r="1.3" fill="#f7000e"/>
<text x="516.1" y="327.6" class="lg">IDH Pos</text>
<text x="516.1" y="333.8" class="lg">IDH Neg</text>
</svg></body></html>
